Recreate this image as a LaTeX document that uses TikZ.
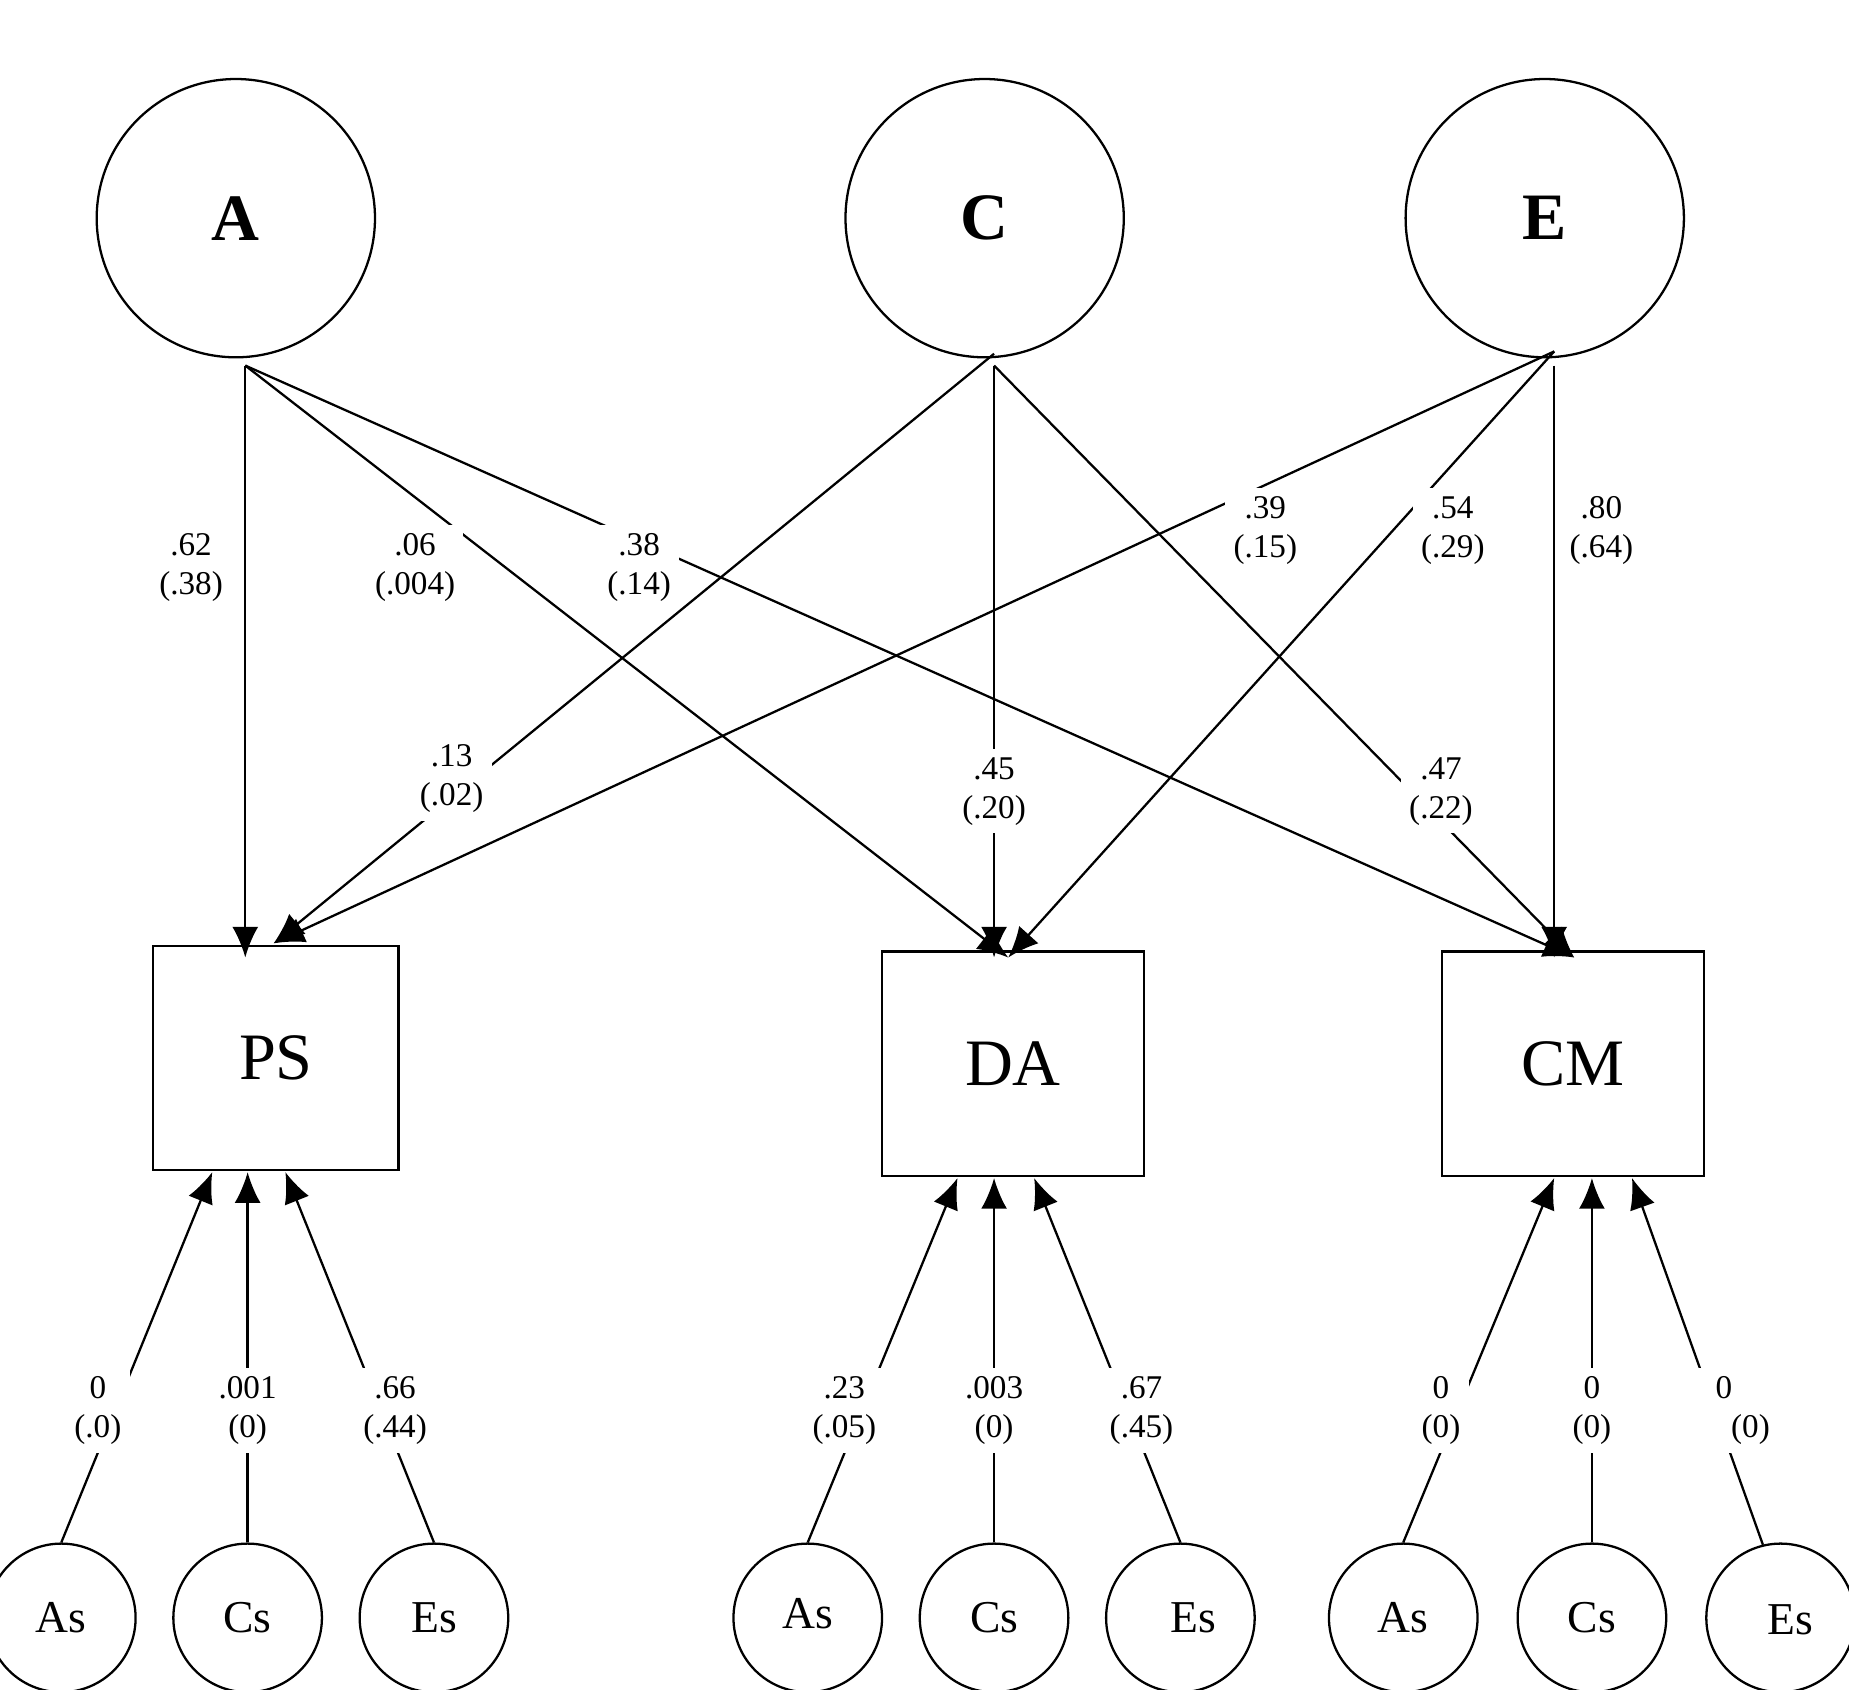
\documentclass[tikz,border=0pt]{standalone}
\usepackage{fontspec}
\setmainfont{Liberation Serif}
\usetikzlibrary{arrows.meta}
\begin{document}
\begin{tikzpicture}[x=0.1mm,y=-0.1mm,line width=0.55pt,
  big/.style={draw,circle,minimum size=23.6mm,inner sep=0,font=\fontsize{16}{18}\selectfont\bfseries},
  box/.style={draw,rectangle,inner sep=0,font=\fontsize{16}{18}\selectfont},
  small/.style={draw,circle,minimum size=12.6mm,inner sep=0,font=\fontsize{11}{13}\selectfont},
  lab/.style={fill=white,align=center,inner sep=2pt,font=\fontsize{8}{9.4}\selectfont},
  arr/.style={-{Latex[length=2.6mm,width=2.2mm]}}]
\useasboundingbox (0,0) rectangle (1568,1433);
\node[big] (A) at (200,185) {A};
\node[big] (C) at (835,185) {C};
\node[big] (E) at (1310,185) {E};
\node[box,minimum width=20.8mm,minimum height=19mm] (PS) at (234,897) {PS};
\node[box,minimum width=22.2mm,minimum height=19mm] (DA) at (859,902) {DA};
\node[box,minimum width=22.2mm,minimum height=19mm] (CM) at (1334,902) {CM};
\coordinate (a0) at (208,310); \coordinate (c0) at (843,300); \coordinate (e0) at (1318,298);
\coordinate (psA) at (208,812); \coordinate (psB) at (232,800);
\coordinate (daT) at (855,812); \coordinate (cmT) at (1335,812);
\draw[arr] (a0) -- (psA);
\draw[arr] (a0) -- (daT);
\draw[arr] (a0) -- (cmT);
\draw[arr] (c0) -- (psB);
\draw[arr] (843,310) -- (843,812);
\draw[arr] (843,310) -- (cmT);
\draw[arr] (e0) -- (psB);
\draw[arr] (e0) -- (daT);
\draw[arr] (1318,310) -- (1318,812);
\node[lab] (l1) at (162,481) {.62\\(.38)};
\node[lab] (l2) at (352,481) {.06\\(.004)};
\node[lab] (l3) at (542,481) {.38\\(.14)};
\node[lab] (l4) at (383,660) {.13\\(.02)};
\node[lab] (l5) at (843,671) {.45\\(.20)};
\node[lab] (l6) at (1222,671) {.47\\(.22)};
\node[lab] (l7) at (1073,450) {.39\\(.15)};
\node[lab] (l8) at (1232,450) {.54\\(.29)};
\node[lab] (l9) at (1358,450) {.80\\(.64)};
\foreach \n/\x in {pa/52,pc/210,pe/368,da/685,dc/843,de/1001,ca/1190,cc/1350,ce/1510}
  \node[small] (\n) at (\x,1372) {};
\node[font=\fontsize{11}{13}\selectfont] at (pa) {As};
\node[font=\fontsize{11}{13}\selectfont] at (pc) {Cs};
\node[font=\fontsize{11}{13}\selectfont] at (pe) {Es};
\node[font=\fontsize{11}{13}\selectfont] at (685,1368) {As};
\node[font=\fontsize{11}{13}\selectfont] at (dc) {Cs};
\node[font=\fontsize{11}{13}\selectfont] at (1012,1372) {Es};
\node[font=\fontsize{11}{13}\selectfont] at (ca) {As};
\node[font=\fontsize{11}{13}\selectfont] at (cc) {Cs};
\node[font=\fontsize{11}{13}\selectfont] at (1518,1374) {Es};
\draw[arr] (pa) ++(0,-64) -- (180,994);
\draw[arr] (pc.north) -- (210,994);
\draw[arr] (pe) ++(0,-64) -- (242,994);
\draw[arr] (da) ++(0,-64) -- (812,999);
\draw[arr] (dc.north) -- (843,999);
\draw[arr] (de) ++(0,-64) -- (877,999);
\draw[arr] (ca) ++(0,-64) -- (1318,999);
\draw[arr] (cc.north) -- (1350,999);
\draw[arr] (ce) ++(-15,-62) -- (1384,999);
\node[lab] (b1) at (83,1196) {0\\(.0)};
\node[lab] (b2) at (210,1196) {.001\\(0)};
\node[lab] (b3) at (335,1196) {.66\\(.44)};
\node[lab] (b4) at (716,1196) {.23\\(.05)};
\node[lab] (b5) at (843,1196) {.003\\(0)};
\node[lab] (b6) at (968,1196) {.67\\(.45)};
\node[lab] (b7) at (1222,1196) {0\\(0)};
\node[lab] (b8) at (1350,1196) {0\\(0)};
\node[lab] (b9) at (1462,1196) {0\hspace{1.6em}\\\hspace{1.6em}(0)};
\end{tikzpicture}
\end{document}
